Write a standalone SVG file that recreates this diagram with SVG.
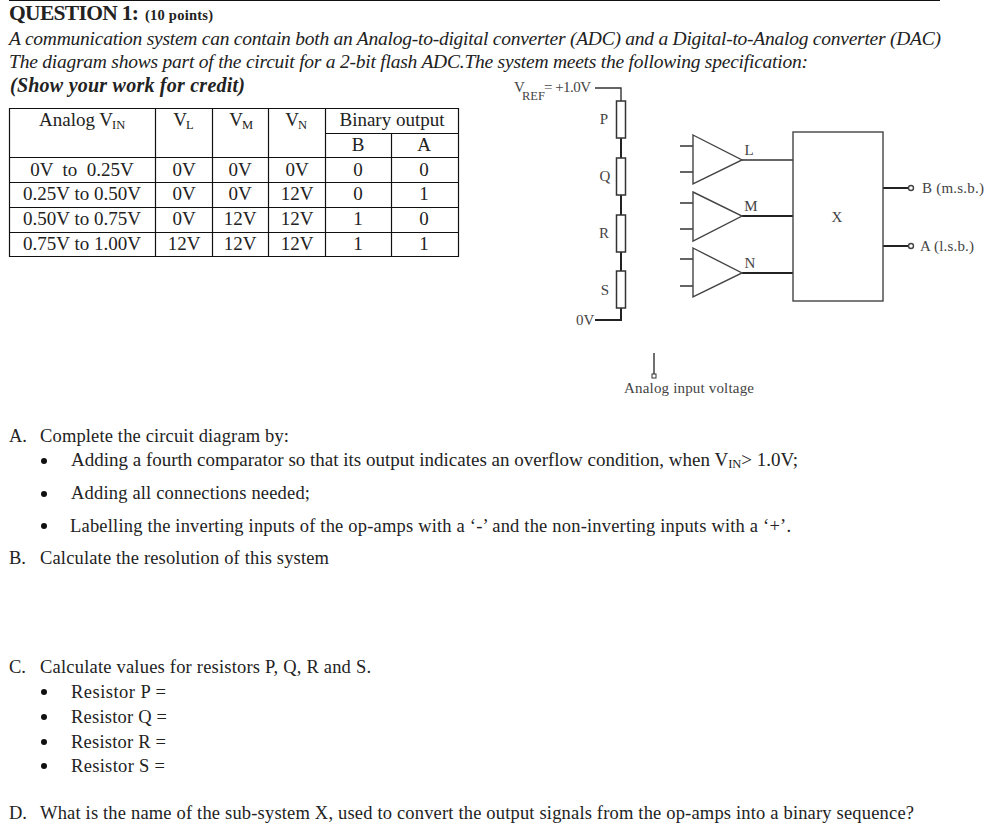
<svg xmlns="http://www.w3.org/2000/svg" width="988" height="827" viewBox="0 0 988 827">
<style>
text{font-family:"Liberation Serif","Times New Roman",serif;fill:#222}
.b{font-size:18.5px}
.i{font-size:19.5px;font-style:italic}
.t{font-size:19px;text-anchor:middle}
.s{font-size:12.5px;text-anchor:start}
.d{font-size:15px;fill:#444}
.dm{font-size:15px;fill:#444;text-anchor:middle}
.tb line{stroke:#111;stroke-width:1.2}
.w{stroke:#333;stroke-width:1.4;fill:none}
.h{stroke:#222;stroke-width:2;fill:none}
.r{fill:#fff;stroke:#333;stroke-width:1.5}
.c{fill:#fff;stroke:#444;stroke-width:1.4}
</style>
<rect width="988" height="827" fill="#fff"/>
<line x1="9" y1="0.5" x2="940" y2="0.5" stroke="#111" stroke-width="1.2"/>
<text x="9" y="20" font-size="21.5" font-weight="bold" textLength="130">QUESTION 1:</text>
<text x="145" y="20" font-size="14.5" font-weight="bold" textLength="68">(10 points)</text>
<text class="i" x="9" y="45" textLength="932">A communication system can contain both an Analog-to-digital converter (ADC) and a Digital-to-Analog converter (DAC)</text>
<text class="i" x="9" y="68" textLength="799">The diagram shows part of the circuit for a 2-bit flash ADC.The system meets the following specification:</text>
<text x="10" y="92" font-size="20" font-weight="bold" font-style="italic" textLength="235">(Show your work for credit)</text>

<g id="table" class="tb">
<line x1="9" y1="108.5" x2="459" y2="108.5"/>
<line x1="325.5" y1="133.5" x2="459" y2="133.5"/>
<line x1="9" y1="157.5" x2="459" y2="157.5"/>
<line x1="9" y1="182.5" x2="459" y2="182.5"/>
<line x1="9" y1="207.5" x2="459" y2="207.5"/>
<line x1="9" y1="232.5" x2="459" y2="232.5"/>
<line x1="9" y1="256.5" x2="459" y2="256.5"/>
<line x1="9.5" y1="108" x2="9.5" y2="257"/>
<line x1="155.5" y1="108" x2="155.5" y2="257"/>
<line x1="212.5" y1="108" x2="212.5" y2="257"/>
<line x1="268.5" y1="108" x2="268.5" y2="257"/>
<line x1="325.5" y1="108" x2="325.5" y2="257"/>
<line x1="391.5" y1="133" x2="391.5" y2="257"/>
<line x1="458.5" y1="108" x2="458.5" y2="257"/>
<text class="t" x="39" y="126" style="text-anchor:start">Analog V</text><text class="s" x="112" y="129">IN</text>
<text class="t" x="180" y="126">V</text><text class="s" x="186" y="129">L</text>
<text class="t" x="236" y="126">V</text><text class="s" x="242" y="129">M</text>
<text class="t" x="292" y="126">V</text><text class="s" x="298" y="129">N</text>
<text class="t" x="392" y="126">Binary output</text>
<text class="t" x="358" y="151">B</text><text class="t" x="424" y="151">A</text>
<text class="t" x="82" y="176" xml:space="preserve">0V  to  0.25V</text>
<text class="t" x="82" y="200">0.25V to 0.50V</text>
<text class="t" x="82" y="225">0.50V to 0.75V</text>
<text class="t" x="82" y="250">0.75V to 1.00V</text>
<text class="t" x="184" y="176">0V</text><text class="t" x="240" y="176">0V</text><text class="t" x="297" y="176">0V</text><text class="t" x="358" y="176">0</text><text class="t" x="424" y="176">0</text>
<text class="t" x="184" y="200">0V</text><text class="t" x="240" y="200">0V</text><text class="t" x="297" y="200">12V</text><text class="t" x="358" y="200">0</text><text class="t" x="424" y="200">1</text>
<text class="t" x="184" y="225">0V</text><text class="t" x="240" y="225">12V</text><text class="t" x="297" y="225">12V</text><text class="t" x="358" y="225">1</text><text class="t" x="424" y="225">0</text>
<text class="t" x="184" y="250">12V</text><text class="t" x="240" y="250">12V</text><text class="t" x="297" y="250">12V</text><text class="t" x="358" y="250">1</text><text class="t" x="424" y="250">1</text>
</g>

<g id="connectors">
<path class="w" d="M595 88H621V101"/>
<path class="h" d="M621 138V158M621 195V215M621 252V271M621 308V320H595"/>
<path class="w" d="M680 146H693M680 172H693M680 203H693M680 229H693M680 259H693M680 286H693"/>
<path class="w" d="M742 160H793"/>
<path class="h" d="M742 216H793M742 273H793M882 188H908M882 246H908"/>
<path class="w" d="M654 353V374"/>
</g>
<g id="res-p"><rect class="r" x="616.5" y="101" width="9" height="37"/><text class="dm" x="604" y="124">P</text></g>
<g id="res-q"><rect class="r" x="616.5" y="158" width="9" height="37"/><text class="dm" x="605" y="181">Q</text></g>
<g id="res-r"><rect class="r" x="616.5" y="215" width="9" height="37"/><text class="dm" x="604" y="238">R</text></g>
<g id="res-s"><rect class="r" x="616.5" y="271" width="9" height="37"/><text class="dm" x="605" y="295">S</text></g>
<g id="vref"><text class="d" x="514" y="92">V</text><text x="522" y="100" font-size="12.5" style="fill:#444">REF</text><text class="d" x="544" y="92" textLength="47">= +1.0V</text></g>
<g id="zero"><text class="d" x="576" y="325">0V</text></g>
<g id="comp-l"><path class="c" d="M693 135L742 160L693 184Z"/><text class="dm" x="749" y="155">L</text></g>
<g id="comp-m"><path class="c" d="M693 192L742 216L693 241Z"/><text class="dm" x="751" y="211">M</text></g>
<g id="comp-n"><path class="c" d="M693 248L742 273L693 297Z"/><text class="dm" x="750" y="268">N</text></g>
<g id="x"><rect x="793" y="132" width="90" height="169" fill="#fff" stroke="#444" stroke-width="1.4"/><text class="dm" x="837" y="222">X</text></g>
<g id="out-b"><circle class="c" cx="911" cy="188" r="2.5"/><text class="d" x="922" y="193" textLength="62">B (m.s.b.)</text></g>
<g id="out-a"><circle class="c" cx="911" cy="246" r="2.5"/><text class="d" x="920" y="251" textLength="54">A (l.s.b.)</text></g>
<g id="input"><rect x="652" y="374" width="4" height="4" fill="#fff" stroke="#333"/><text x="624" y="393" font-size="15" style="fill:#444" textLength="130">Analog input voltage</text></g>

<g id="body">
<text class="b" x="9" y="442">A.</text><text class="b" x="40" y="442" textLength="249">Complete the circuit diagram by:</text>
<circle cx="44" cy="461" r="3" fill="#111"/>
<text x="71" y="466" font-size="19">Adding a fourth comparator so that its output indicates an overflow condition, when V<tspan font-size="12.5" dy="2">IN</tspan><tspan dy="-2">&gt; 1.0V;</tspan></text>
<circle cx="44" cy="494" r="3" fill="#111"/>
<text class="b" x="71" y="499" textLength="239">Adding all connections needed;</text>
<circle cx="44" cy="526" r="3" fill="#111"/>
<text class="b" x="70" y="532" textLength="721">Labelling the inverting inputs of the op-amps with a ‘-’ and the non-inverting inputs with a ‘+’.</text>
<text class="b" x="9" y="564">B.</text><text class="b" x="40" y="564" textLength="289">Calculate the resolution of this system</text>
<text class="b" x="9" y="673">C.</text><text class="b" x="40" y="673" textLength="331">Calculate values for resistors P, Q, R and S.</text>
<circle cx="44" cy="692" r="3" fill="#111"/>
<text class="b" x="71" y="698" textLength="95">Resistor P =</text>
<circle cx="44" cy="717" r="3" fill="#111"/>
<text class="b" x="71" y="723" textLength="96">Resistor Q =</text>
<circle cx="44" cy="742" r="3" fill="#111"/>
<text class="b" x="71" y="748" textLength="95">Resistor R =</text>
<circle cx="44" cy="766" r="3" fill="#111"/>
<text class="b" x="71" y="772" textLength="94">Resistor S =</text>
<text class="b" x="9" y="819">D.</text><text class="b" x="40" y="819" textLength="874">What is the name of the sub-system X, used to convert the output signals from the op-amps into a binary sequence?</text>
</g>
</svg>
